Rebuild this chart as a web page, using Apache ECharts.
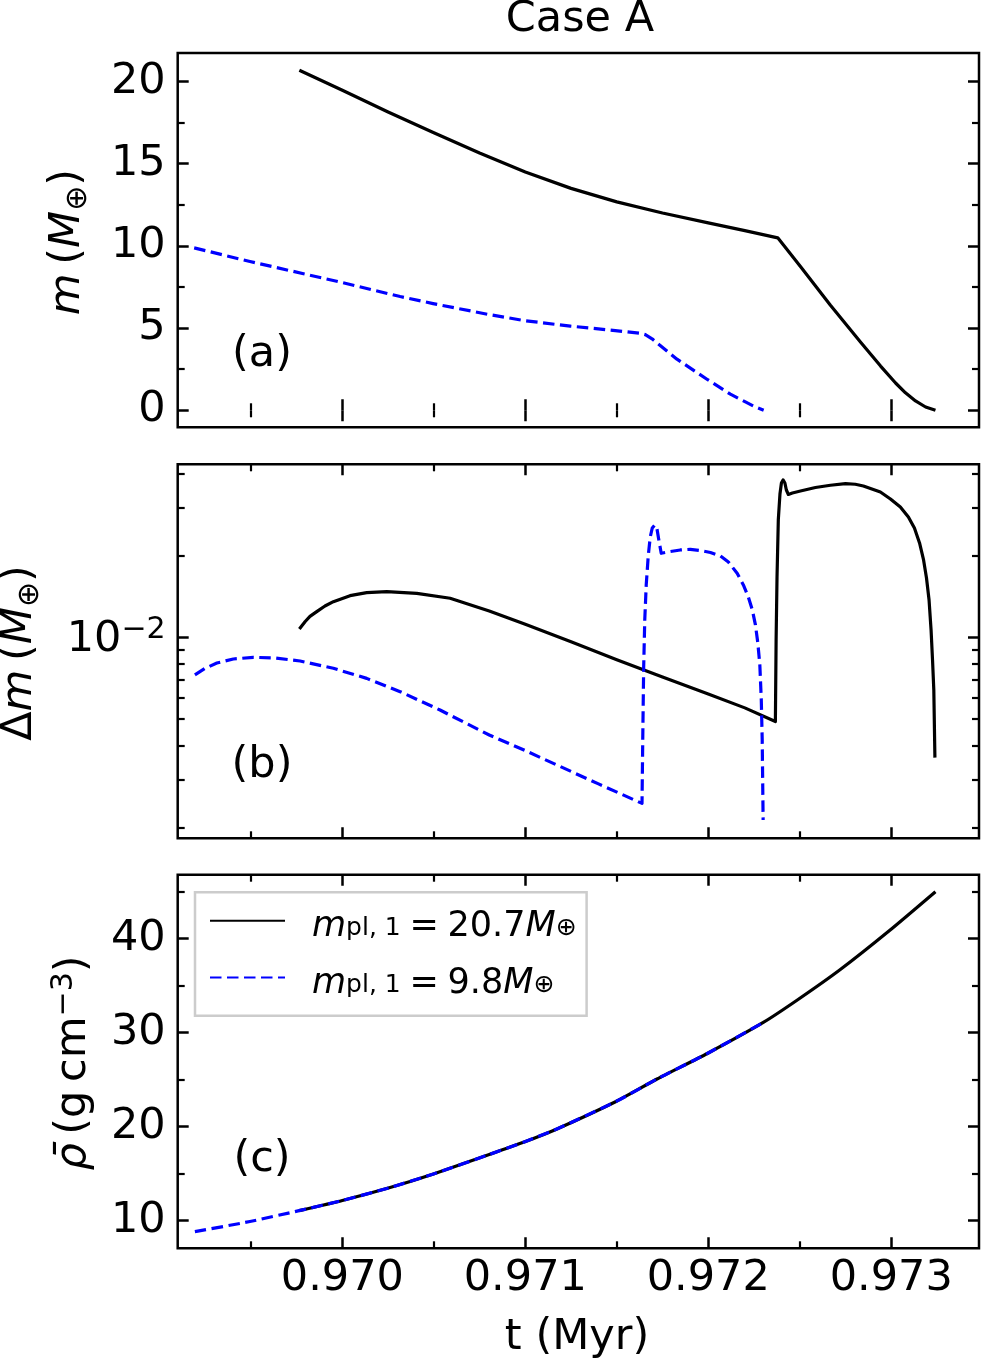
<!DOCTYPE html>
<html>
<head>
<meta charset="utf-8">
<script src="https://cdn.jsdelivr.net/npm/echarts@6/dist/echarts.min.js"></script>
<style>
html,body{margin:0;padding:0;background:#fff;}
#chart{width:981px;height:1359px;}
</style>
</head>
<body>
<div id="chart"></div>
<script>
// ---------------- data ----------------
// panel (a): planet mass m (M_earth) vs t (Myr)
const tMassBlack = [0.969765,0.970000,0.970250,0.970500,0.970750,0.971000,0.971250,0.971500,0.971750,0.972000,0.972200,0.972380,0.972504,0.972668,0.972832,0.972942,0.973024,0.973078,0.973133,0.973188,0.973242];
const massBlack  = [20.69,19.47,18.15,16.88,15.65,14.5,13.5,12.68,12.0,11.4,10.93,10.49,8.74,6.39,4.16,2.69,1.66,1.06,0.57,0.20,0.0];
const tMassBlue  = [0.969190,0.969495,0.970000,0.970316,0.970496,0.970803,0.970999,0.971246,0.971492,0.971629,0.971656,0.971695,0.971739,0.971829,0.971993,0.972121,0.972203,0.972258,0.972303];
const massBlue   = [9.88,9.05,7.77,6.92,6.49,5.82,5.45,5.12,4.85,4.68,4.6,4.33,3.93,3.11,1.89,0.98,0.51,0.2,0.0];

// panel (b): mass lost per step, Delta m (M_earth), log scale
const tDmBlack = [0.969765,0.969797,0.969823,0.969860,0.969905,0.969951,0.970042,0.970133,0.970243,0.970407,0.970589,0.970803,0.971000,0.971250,0.971500,0.971750,0.972000,0.972200,0.972367,0.972371,0.972376,0.972383,0.972392,0.972400,0.972409,0.972419,0.972427,0.972438,0.972460,0.972504,0.972586,0.972668,0.972750,0.972804,0.972848,0.972941,0.972996,0.973050,0.973094,0.973127,0.973155,0.973177,0.973193,0.973207,0.973218,0.973226,0.973233,0.973239];
const dmBlack  = [0.01073,0.01143,0.01193,0.01242,0.01303,0.01352,0.01422,0.01459,0.01471,0.01451,0.01391,0.0125,0.01117,0.00963,0.00827,0.00715,0.00619,0.0055,0.0049,0.00977,0.0167,0.027,0.03364,0.03693,0.0379,0.03693,0.0348,0.0335,0.0339,0.0345,0.03553,0.03623,0.03673,0.03653,0.03599,0.0342,0.03225,0.03013,0.02769,0.02522,0.02222,0.01924,0.01652,0.01371,0.01064,0.00825,0.0064,0.00361];
const tDmBlue  = [0.969194,0.969249,0.969314,0.969404,0.969513,0.969632,0.969769,0.969951,0.970133,0.970316,0.970534,0.970803,0.971000,0.971173,0.971400,0.971638,0.971642,0.971647,0.971653,0.971661,0.971672,0.971683,0.971694,0.971708,0.971719,0.971730,0.971743,0.971793,0.971847,0.971902,0.971957,0.972012,0.972067,0.972110,0.972158,0.972192,0.972219,0.972241,0.972258,0.972271,0.972282,0.972290,0.972295,0.972300];
const dmBlue   = [0.00727,0.00768,0.00804,0.00832,0.00844,0.00839,0.00818,0.00769,0.00706,0.00631,0.0054,0.00437,0.00383,0.00339,0.00289,0.00245,0.00419,0.00771,0.01158,0.01557,0.0199,0.02337,0.02522,0.02588,0.02522,0.02279,0.02036,0.02067,0.02094,0.02106,0.02085,0.0205,0.0199,0.01891,0.01719,0.01557,0.01406,0.0126,0.0111,0.00953,0.00791,0.00588,0.00419,0.00213];

// panel (c): mean density rho (g cm^-3)
const tRhoBlack = [0.969765,0.970000,0.970261,0.970498,0.970803,0.970994,0.971173,0.971496,0.971720,0.971995,0.972301,0.972491,0.972722,0.972991,0.973242];
const rhoBlack  = [11.07,12.15,13.53,14.97,17.04,18.37,19.76,22.68,25.07,27.79,31.09,33.53,36.72,40.87,45.0];
const tRhoBlue  = [0.969194,0.969495,0.969769,0.970000,0.970261,0.970498,0.970803,0.970994,0.971173,0.971496,0.971720,0.971995,0.972301];
const rhoBlue   = [8.83,9.91,11.09,12.15,13.53,14.97,17.04,18.37,19.76,22.68,25.07,27.79,31.09];

// tick values
const xMajorTicks = [0.970,0.971,0.972,0.973];
const xMinorTicks = [0.9695,0.9705,0.9715,0.9725];
const massMajorTicks = [0,5,10,15,20];
const massMinorTicks = [2.5,7.5,12.5,17.5];
const dmMajorTicks = [0.01];
const dmMinorTicks = [0.002,0.003,0.004,0.005,0.006,0.007,0.008,0.009,0.02,0.03,0.04];
const rhoMajorTicks = [10,20,30,40];
const rhoMinorTicks = [15,25,35,45];

// legend labels
const legendNames = ['m1','m2'];
const legendMass = {m1:'20.7', m2:'9.8'};

// ---------------- layout ----------------
const FONT = 'DejaVu Sans';
const T_MIN = 0.96910, T_MAX = 0.97348;
const GRID_LEFT = 177.7, GRID_W = 801.3;
const grids = [
  {top:53.0, height:374.3},
  {top:464.3, height:374.0},
  {top:874.7, height:373.6}
];
const yRanges = [
  {type:'value', min:-1.035, max:21.735, major:massMajorTicks, minor:massMinorTicks},
  {type:'log', min:0.001823, max:0.04325, major:dmMajorTicks, minor:dmMinorTicks},
  {type:'value', min:7.06, max:46.81, major:rhoMajorTicks, minor:rhoMinorTicks}
];

const tickStyle = {color:'#000', width:2.5};
const minorTickStyle = {color:'#000', width:2.2};

function xAxesFor(g, showLabels) {
  const base = {type:'value', gridIndex:g, min:T_MIN, max:T_MAX,
    axisLine:{show:false}, splitLine:{show:false}, minorTick:{show:false}};
  const lab = {show:showLabels, customValues:xMajorTicks, formatter:v => v.toFixed(3),
    margin:9, fontSize:43, lineHeight:43, fontFamily:FONT, color:'#000'};
  return [
    Object.assign({}, base, {position:'bottom',
      axisTick:{inside:true, length:11, customValues:xMajorTicks, lineStyle:tickStyle}, axisLabel:lab}),
    Object.assign({}, base, {position:'bottom',
      axisTick:{inside:true, length:7, customValues:xMinorTicks, lineStyle:minorTickStyle}, axisLabel:{show:false}}),
    Object.assign({}, base, {position:'top',
      axisTick:{inside:true, length:11, customValues:xMajorTicks, lineStyle:tickStyle}, axisLabel:{show:false}}),
    Object.assign({}, base, {position:'top',
      axisTick:{inside:true, length:7, customValues:xMinorTicks, lineStyle:minorTickStyle}, axisLabel:{show:false}})
  ];
}

function yAxesFor(g) {
  const r = yRanges[g];
  const base = {type:r.type, gridIndex:g, min:r.min, max:r.max,
    axisLine:{show:false}, splitLine:{show:false}, minorTick:{show:false}, minorSplitLine:{show:false}};
  if (r.type === 'log') base.logBase = 10;
  let lab;
  if (r.type === 'log') {
    lab = {show:true, customValues:r.major, margin:12, color:'#000', fontFamily:FONT,
      formatter:v => '{a|10}{b|\u2212' + Math.round(-Math.log10(v)) + '}',
      rich:{
        a:{fontSize:43, fontFamily:FONT, color:'#000', lineHeight:44, padding:[6,0,0,0]},
        b:{fontSize:30, fontFamily:FONT, color:'#000', lineHeight:35, verticalAlign:'top'}
      }};
  } else {
    lab = {show:true, customValues:r.major, margin:12, fontSize:43, fontFamily:FONT, color:'#000',
      formatter:v => String(v)};
  }
  return [
    Object.assign({}, base, {position:'left',
      axisTick:{inside:true, length:11, customValues:r.major, lineStyle:tickStyle}, axisLabel:lab}),
    Object.assign({}, base, {position:'left',
      axisTick:{inside:true, length:7, customValues:r.minor, lineStyle:minorTickStyle}, axisLabel:{show:false}}),
    Object.assign({}, base, {position:'right',
      axisTick:{inside:true, length:11, customValues:r.major, lineStyle:tickStyle}, axisLabel:{show:false}}),
    Object.assign({}, base, {position:'right',
      axisTick:{inside:true, length:7, customValues:r.minor, lineStyle:minorTickStyle}, axisLabel:{show:false}})
  ];
}

function pairs(ts, vs) { return ts.map((t, i) => [t, vs[i]]); }

const blackLine = {color:'#000000', width:3.2, type:'solid', cap:'butt', join:'round'};
const blueLine = {color:'#0000ff', width:3.2, type:[11.5,5.5], cap:'butt', join:'round'};

function lineSeries(name, g, ts, vs, style, z, smooth) {
  return {name:name, type:'line', xAxisIndex:4*g, yAxisIndex:4*g,
    data:pairs(ts, vs), symbol:'none', showSymbol:false,
    smooth:smooth || false,
    lineStyle:style, itemStyle:{color:style.color}, z:z, silent:true, animation:false};
}

const richLabel = {
  n:{fontSize:43, fontFamily:FONT, color:'#000', lineHeight:50},
  i:{fontSize:43, fontFamily:FONT, fontStyle:'italic', color:'#000', lineHeight:50},
  sub:{fontSize:30, fontFamily:FONT, color:'#000', lineHeight:32, verticalAlign:'bottom'},
  sup:{fontSize:30, fontFamily:FONT, color:'#000', lineHeight:32, verticalAlign:'top'}
};

function txt(x, y, text, rot) {
  return {type:'text', x:x, y:y, rotation:rot || 0, silent:true, z:50,
    style:{text:text, rich:richLabel, fontSize:43, fontFamily:FONT, fill:'#000',
      align:'center', verticalAlign:'middle'}};
}

const option = {
  animation:false,
  backgroundColor:'#ffffff',
  grid: grids.map(g => ({left:GRID_LEFT, top:g.top, width:GRID_W, height:g.height,
    show:true, borderColor:'#000', borderWidth:2.5, backgroundColor:'transparent',
    containLabel:false, outerBoundsMode:'none'})),
  xAxis: [].concat(xAxesFor(0,false), xAxesFor(1,false), xAxesFor(2,true)),
  yAxis: [].concat(yAxesFor(0), yAxesFor(1), yAxesFor(2)),
  legend: {
    show:true, data:legendNames, orient:'vertical', left:195, top:892.3,
    padding:[5,10,14.7,14], itemWidth:75, itemHeight:14, itemGap:9.7,
    selectedMode:false, backgroundColor:'rgba(255,255,255,0.8)',
    borderColor:'#cccccc', borderWidth:2.5, borderRadius:0,
    itemStyle:{opacity:0},
    formatter: name => '{im|m}{sub|pl, 1}{n|\u2005=\u2005' + legendMass[name] + '}{i|M}{sub|\u2295}',
    textStyle:{fontSize:35, fontFamily:FONT, color:'#000',
      rich:{
        im:{fontSize:35, fontFamily:FONT, fontStyle:'italic', color:'#000', lineHeight:40, padding:[12,0,0,22]},
        i:{fontSize:35, fontFamily:FONT, fontStyle:'italic', color:'#000', lineHeight:40, padding:[12,0,0,0]},
        n:{fontSize:35, fontFamily:FONT, color:'#000', lineHeight:40, padding:[12,0,0,0]},
        sub:{fontSize:25, fontFamily:FONT, color:'#000', lineHeight:22, verticalAlign:'bottom'}
      }}
  },
  graphic: [
    txt(580, 20, 'Case A'),
    txt(68, 242, '{i|m}{n|\u2009(}{i|M}{sub|\u2295}{n|)}', Math.PI/2),
    txt(20, 653, '{n|\u0394}{i|m}{n|\u2009(}{i|M}{sub|\u2295}{n|)}', Math.PI/2),
    txt(74, 1063, '{i|\u03c1\u0304}{n|\u2009(g\u2009cm}{sup|\u22123}{n|)}', Math.PI/2),
    txt(262, 355, '(a)'),
    txt(262, 766, '(b)'),
    txt(262, 1160, '(c)'),
    txt(577, 1338, 't (Myr)')
  ],
  series: [
    lineSeries('m1', 0, tMassBlack, massBlack, blackLine, 3),
    lineSeries('m2', 0, tMassBlue, massBlue, blueLine, 4),
    lineSeries('m1', 1, tDmBlack, dmBlack, blackLine, 3),
    lineSeries('m2', 1, tDmBlue, dmBlue, blueLine, 4),
    lineSeries('m1', 2, tRhoBlack, rhoBlack, blackLine, 3, 0.2),
    lineSeries('m2', 2, tRhoBlue, rhoBlue, blueLine, 4, 0.2)
  ]
};

const chart = echarts.init(document.getElementById('chart'), null, {renderer:'canvas'});
chart.setOption(option);
</script>
</body>
</html>
